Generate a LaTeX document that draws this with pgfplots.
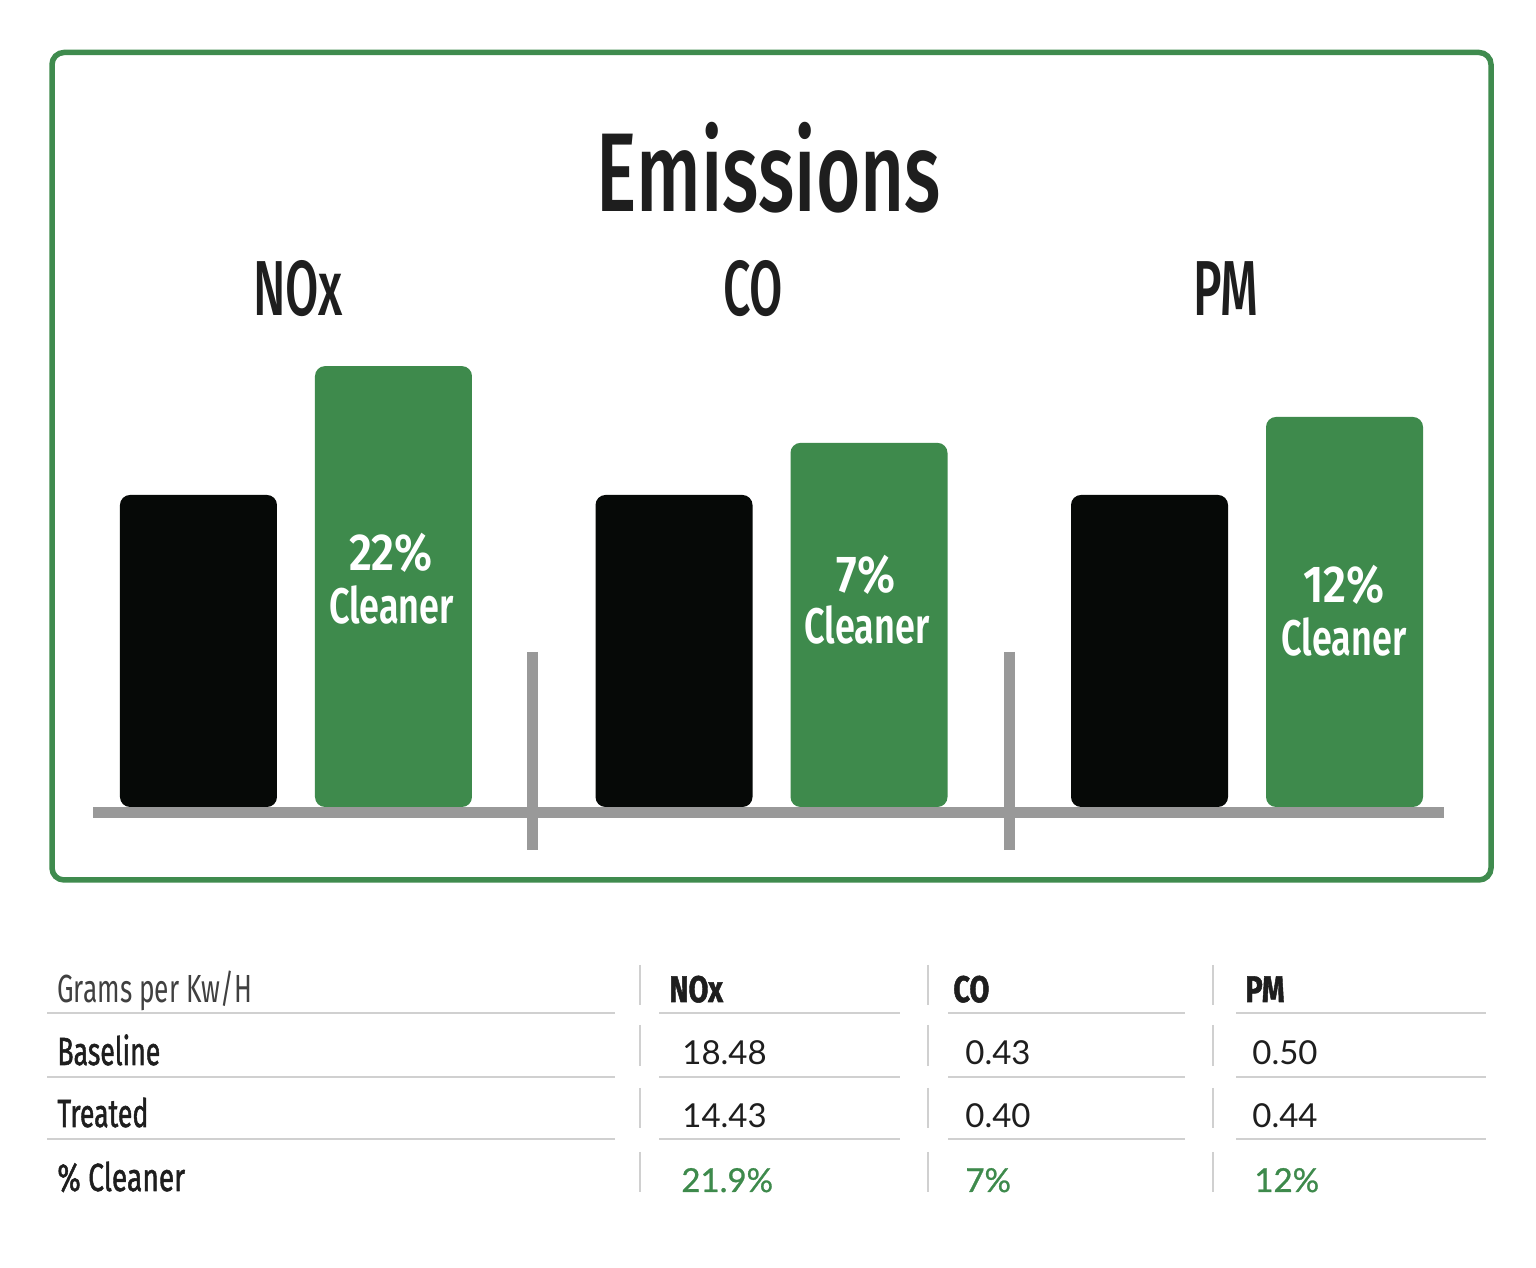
\documentclass[border=0pt]{standalone}
\usepackage{fontspec}
\setmainfont{Fira Sans}
\newfontfamily\heavy{Fira Sans}[FakeBold=1.5]
\newfontfamily\firamed{Fira Sans Medium}
\newfontfamily\firasemi{Fira Sans SemiBold}
\newfontfamily\lato{Lato}
\newfontfamily\latom{Lato}[FakeBold=0.8]
\usepackage{graphicx}
\usepackage{pgfplots}
\pgfplotsset{compat=1.18}
\definecolor{boxgreen}{HTML}{3F8B4E}
\definecolor{bargreen}{HTML}{3E8A4C}
\definecolor{barblack}{HTML}{060907}
\definecolor{axisgray}{HTML}{999999}
\definecolor{rulegray}{HTML}{D0D0D0}
\definecolor{ink}{HTML}{1E1E1E}
\newcommand\cond[2]{\scalebox{#1}[1]{#2}}
\begin{document}
\begin{tikzpicture}
\begin{scope}[x=0.5pt, y=-0.5pt, yshift=634pt]
  \fill[white] (0,0) rectangle (1536,1268);
  % frame
  \draw[boxgreen, line width=2.75pt, rounded corners=6pt] (52,52.5) rectangle (1491,880);
  % baseline and separators
  \draw[axisgray, line width=5.5pt] (93,813) -- (1444,813);
  \draw[axisgray, line width=5.5pt] (532.5,652) -- (532.5,850);
  \draw[axisgray, line width=5.5pt] (1009,652) -- (1009,850);
  % title and group labels
  \node[anchor=base, ink, inner sep=0] at (769,212) {\fontsize{56}{60}\selectfont\firamed\cond{0.68}{Emissions}};
  \node[anchor=base, ink, inner sep=0] at (298,316) {\fontsize{39}{42}\selectfont\firamed\cond{0.62}{NOx}};
  \node[anchor=base, ink, inner sep=0] at (753,316) {\fontsize{39}{42}\selectfont\firamed\cond{0.62}{CO}};
  \node[anchor=base, ink, inner sep=0] at (1226,316) {\fontsize{39}{42}\selectfont\firamed\cond{0.62}{PM}};
  % table rules
  \foreach \y in {1013,1077,1139}{
    \draw[rulegray, line width=1pt] (47,\y) -- (615,\y);
    \draw[rulegray, line width=1pt] (659,\y) -- (900,\y);
    \draw[rulegray, line width=1pt] (948,\y) -- (1185,\y);
    \draw[rulegray, line width=1pt] (1236,\y) -- (1486,\y);
  }
  \foreach \x in {640,928,1213}{
    \draw[rulegray, line width=1pt] (\x,965) -- (\x,1005);
    \draw[rulegray, line width=1pt] (\x,1025) -- (\x,1066);
    \draw[rulegray, line width=1pt] (\x,1088) -- (\x,1128);
    \draw[rulegray, line width=1pt] (\x,1152) -- (\x,1192);
  }
  % table text
  \node[anchor=base west, text=ink!85, inner sep=0] at (57,1003) {\fontsize{19.6}{22}\selectfont\cond{0.67}{Grams per Kw/H}};
  \node[anchor=base west, text=ink, inner sep=0] at (57,1065) {\fontsize{19.6}{22}\selectfont\heavy\cond{0.68}{Baseline}};
  \node[anchor=base west, text=ink, inner sep=0] at (57,1127) {\fontsize{19.6}{22}\selectfont\heavy\cond{0.68}{Treated}};
  \node[anchor=base west, text=ink, inner sep=0] at (57,1191) {\fontsize{19.6}{22}\selectfont\heavy\cond{0.72}{\% Cleaner}};
  \node[anchor=base west, text=ink, inner sep=0] at (669,1002) {\fontsize{18.5}{20}\selectfont\heavy\bfseries\cond{0.78}{NOx}};
  \node[anchor=base west, text=ink, inner sep=0] at (953,1002) {\fontsize{18.5}{20}\selectfont\heavy\bfseries\cond{0.78}{CO}};
  \node[anchor=base west, text=ink, inner sep=0] at (1245,1002) {\fontsize{18.5}{20}\selectfont\heavy\bfseries\cond{0.78}{PM}};
  \node[anchor=base west, text=ink, inner sep=0] at (682,1065) {\fontsize{16.5}{18}\selectfont\lato 18.48};
  \node[anchor=base west, text=ink, inner sep=0] at (965,1065) {\fontsize{16.5}{18}\selectfont\lato 0.43};
  \node[anchor=base west, text=ink, inner sep=0] at (1252,1065) {\fontsize{16.5}{18}\selectfont\lato 0.50};
  \node[anchor=base west, text=ink, inner sep=0] at (682,1128) {\fontsize{16.5}{18}\selectfont\lato 14.43};
  \node[anchor=base west, text=ink, inner sep=0] at (965,1128) {\fontsize{16.5}{18}\selectfont\lato 0.40};
  \node[anchor=base west, text=ink, inner sep=0] at (1252,1128) {\fontsize{16.5}{18}\selectfont\lato 0.44};
  \node[anchor=base west, text=bargreen, inner sep=0] at (681,1192) {\fontsize{16.5}{18}\selectfont\latom 21.9\%};
  \node[anchor=base west, text=bargreen, inner sep=0] at (965,1192) {\fontsize{16.5}{18}\selectfont\latom 7\%};
  \node[anchor=base west, text=bargreen, inner sep=0] at (1254,1192) {\fontsize{16.5}{18}\selectfont\latom 12\%};
\end{scope}
\begin{axis}[at={(46.5pt,230.5pt)}, anchor=south west, scale only axis,
  width=675.5pt, height=234pt,
  xmin=-0.4269, xmax=2.4143, ymin=0, ymax=150,
  hide axis, clip=false]
  \addplot[ybar, bar width=78.5pt, bar shift=-48.75pt, fill=barblack, draw=none, rounded corners=5pt]
    coordinates {(0,100) (1,100) (2,100)};
  \addplot[ybar, bar width=78.5pt, bar shift=48.75pt, fill=bargreen, draw=none, rounded corners=5pt]
    coordinates {(0,141.3) (1,116.7) (2,125.0)};
\end{axis}
\begin{scope}[x=0.5pt, y=-0.5pt, yshift=634pt]
  \node[anchor=base, white, inner sep=0] at (391,571) {\fontsize{26}{28}\selectfont\firasemi\cond{0.86}{22\%}};
  \node[anchor=base, white, inner sep=0] at (391.5,624) {\fontsize{25}{28}\selectfont\firasemi\cond{0.72}{Cleaner}};
  \node[anchor=base, white, inner sep=0] at (866,593) {\fontsize{26}{28}\selectfont\firasemi\cond{0.86}{7\%}};
  \node[anchor=base, white, inner sep=0] at (867,644) {\fontsize{25}{28}\selectfont\firasemi\cond{0.72}{Cleaner}};
  \node[anchor=base, white, inner sep=0] at (1344,603) {\fontsize{26}{28}\selectfont\firasemi\cond{0.86}{12\%}};
  \node[anchor=base, white, inner sep=0] at (1344,656) {\fontsize{25}{28}\selectfont\firasemi\cond{0.72}{Cleaner}};
\end{scope}
\end{tikzpicture}
\end{document}
